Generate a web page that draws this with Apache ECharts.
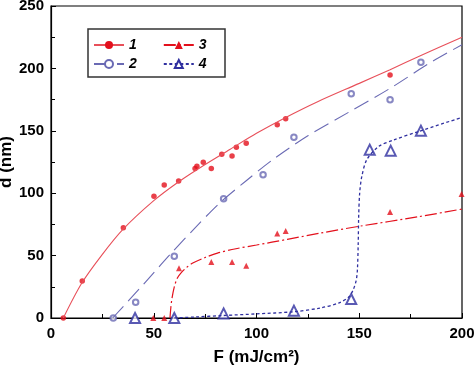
<!DOCTYPE html>
<html><head><meta charset="utf-8">
<script src="https://cdn.jsdelivr.net/npm/echarts@6/dist/echarts.min.js"></script>
<style>html,body{margin:0;padding:0;background:#fff}#c{width:474px;height:366px}</style>
</head><body><div id="c"></div>
<script>
// Measured points [F, d]
const pts1 = [[6,0],[15.2,29.6],[35.2,72.4],[50.1,97.5],[55.1,106.6],[62.1,109.8],[70.1,119.7],[71,121.5],[74.1,124.7],[78,119.7],[83.1,131.2],[88.1,129.8],[90.2,136.8],[95,140],[110.1,154.9],[114.2,159.7],[165,194.7]];
const pts2 = [[30.3,0],[41.2,12.6],[60,49.4],[84,95.6],[103.2,114.8],[118.2,144.8],[146.1,179.7],[165,174.9],[180,204.9]];
const pts3 = [[49.8,0],[55.1,0],[62.3,39.8],[78,44.9],[88.1,44.9],[95,41.9],[110.1,67.8],[114.2,69.7],[165,84.9],[199.8,99.4]];
const pts4 = [[40.9,0],[60,0],[84,3.7],[118.2,5.9],[146.1,15.2],[155.1,134.9],[165.3,134.1],[180,150.1]];
// Fitted curves
const fit1 = [[6,0],[15,28],[25,51],[35,71],[50,94],[62,109],[75,123],[87,135],[100,148],[114,160.5],[130,173.5],[150,188],[165,199],[180,210.3],[200,225]];
const fit2 = [[30,0],[45,27],[58,51],[70,72],[82,92],[95,110],[108,127],[125,146],[145,165],[165,184],[184,204],[200,219]];
const fit3 = [[57.9,0],[58.3,8],[58.8,15],[60,25],[61.5,32],[63.5,36.5],[66,40.5],[69,44],[75,48.5],[81,52],[90,55.5],[100,58.5],[115,63],[131,68],[150,73.5],[179,81.2],[200,87.3]];
const fit4 = [[60,0],[70,0.8],[84,2],[100,3.3],[118,5],[131,8],[140,12],[145,17],[147,22.4],[148.5,30],[149.1,38.5],[149.5,60],[149.7,80],[150.2,100],[151.2,113],[153.6,126.6],[159.3,137.3],[166.6,142.6],[178.7,149.3],[200,160.8]];

const RED = '#e3101c', REDL = '#e8505a', BLUE = '#6a6ab4', BLUED = '#3030a0';
const chart = echarts.init(document.getElementById('c'));
const lbl = {fontFamily:'Liberation Sans, Arial', fontWeight:'bold', fontSize:15, color:'#000'};
const legText = {fontFamily:'Liberation Sans, Arial',fontWeight:'bold',fontStyle:'italic',fontSize:14,color:'#000'};
chart.setOption({
  animation:false,
  grid:{left:51,right:12,top:6,bottom:48,show:true,borderColor:'#000',borderWidth:1.2,containLabel:false,outerBoundsMode:'none'},
  xAxis:{type:'value',min:0,max:200,interval:50,
    name:'F (mJ/cm²)',nameLocation:'middle',nameGap:31,nameMoveOverlap:false,
    nameTextStyle:{fontFamily:'Liberation Sans, Arial',fontWeight:'bold',fontSize:17,color:'#000'},
    axisLine:{lineStyle:{color:'#000',width:1.2}},
    axisTick:{inside:true,length:5,lineStyle:{color:'#000'}},
    minorTick:{show:true,splitNumber:2,length:4,lineStyle:{color:'#000'}},
    splitLine:{show:false},axisLabel:Object.assign({margin:8},lbl)},
  yAxis:{type:'value',min:0,max:250,interval:50,
    name:'d (nm)',nameLocation:'middle',nameGap:36,nameMoveOverlap:false,
    nameTextStyle:{fontFamily:'Liberation Sans, Arial',fontWeight:'bold',fontSize:17,color:'#000'},
    axisLine:{show:true,lineStyle:{color:'#000',width:1.2}},
    axisTick:{show:true,inside:true,length:5,lineStyle:{color:'#000'}},
    minorTick:{show:true,splitNumber:2,length:4,lineStyle:{color:'#000'}},
    splitLine:{show:false},axisLabel:Object.assign({margin:7},lbl)},
  legend:[
    {data:['1','3'],left:93,top:38,padding:0,itemWidth:30,itemHeight:10,itemGap:26,textStyle:legText},
    {data:['2','4'],left:93,top:57,padding:0,itemWidth:30,itemHeight:10,itemGap:26,textStyle:legText}
  ],
  graphic:[{type:'rect',shape:{x:88,y:29,width:137,height:48},style:{fill:'none',stroke:'#333',lineWidth:1.5},z:100}],
  series:[
    {name:'1',type:'line',data:fit1,smooth:0.3,showSymbol:false,symbol:'circle',
     itemStyle:{color:RED},lineStyle:{color:REDL,width:1.1,type:'solid'}},
    {name:'2',type:'line',data:fit2,smooth:0.3,showSymbol:false,symbol:'emptyCircle',
     itemStyle:{color:BLUE},lineStyle:{color:BLUE,width:1.1,type:[16,7]}},
    {name:'3',type:'line',data:fit3,smooth:0.3,showSymbol:false,symbol:'triangle',
     itemStyle:{color:RED},lineStyle:{color:RED,width:1.2,type:[12,3,2,3]}},
    {name:'4',type:'line',data:fit4,smooth:0.3,showSymbol:false,symbol:'emptyTriangle',
     itemStyle:{color:BLUED},lineStyle:{color:BLUED,width:1.3,type:[3,2.5]}},
    {name:'p1',type:'scatter',data:pts1,symbol:'circle',symbolSize:5.5,itemStyle:{color:RED}},
    {name:'p2',type:'scatter',data:pts2,symbol:'emptyCircle',symbolSize:5.5,itemStyle:{color:BLUE,borderWidth:1}},
    {name:'p3',type:'scatter',data:pts3,symbol:'triangle',symbolSize:6,itemStyle:{color:RED}},
    {name:'p4',type:'scatter',data:pts4,symbol:'emptyTriangle',symbolSize:10,itemStyle:{color:BLUED,borderWidth:1}}
  ]
});
</script></body></html>
